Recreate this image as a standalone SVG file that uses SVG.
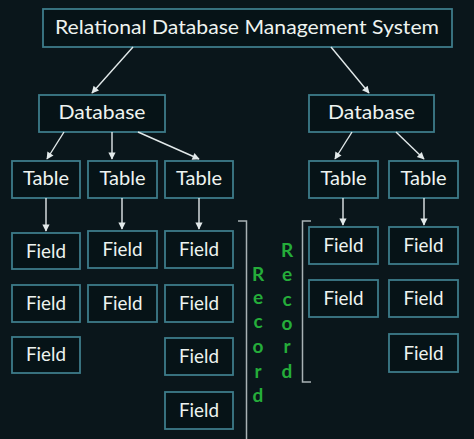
<svg xmlns="http://www.w3.org/2000/svg" width="474" height="439" viewBox="0 0 474 439">
<defs>
<style>
.bx{fill:#061317;stroke:#3d7c8a;stroke-width:1.8}
.t{font-family:Lato,"Liberation Sans",sans-serif;fill:#eef3f0;text-anchor:middle;font-size:19px}
.f{font-size:20px}
.c{stroke:#e2e9ea;stroke-width:1.4;fill:none}
.rec{font-family:Lato,"Liberation Sans",sans-serif;fill:#25ad3a;text-anchor:middle;font-size:19px;font-weight:700}
.br{stroke:#a9b2b5;stroke-width:1.5;fill:none}
</style>
<marker id="ah" viewBox="0 0 10 10" refX="9" refY="5" markerWidth="6" markerHeight="6" markerUnits="userSpaceOnUse" orient="auto" overflow="visible">
<path d="M0,0 L10,5 L0,10 z" fill="#e2e9ea" transform="scale(1.2) translate(-1.5,-0.8)"/>
</marker>
</defs>
<rect width="474" height="439" fill="#0a161b"/>
<g id="rdbms"><rect class="bx" x="43" y="9" width="409" height="38"/><text class="t" x="247" y="34" textLength="384" lengthAdjust="spacingAndGlyphs">Relational Database Management System</text></g>
<g id="db1"><rect class="bx" x="39" y="95" width="126" height="37"/><text class="t" x="102" y="119" textLength="87" lengthAdjust="spacingAndGlyphs">Database</text></g>
<g id="db2"><rect class="bx" x="309" y="95" width="125" height="37"/><text class="t" x="371.5" y="119" textLength="87" lengthAdjust="spacingAndGlyphs">Database</text></g>
<g id="t1"><rect class="bx" x="12" y="161" width="68" height="37"/><text class="t" x="46" y="185" textLength="46" lengthAdjust="spacingAndGlyphs">Table</text></g>
<g id="t2"><rect class="bx" x="88" y="161" width="69" height="37"/><text class="t" x="122.5" y="185" textLength="46" lengthAdjust="spacingAndGlyphs">Table</text></g>
<g id="t3"><rect class="bx" x="165" y="161" width="68" height="37"/><text class="t" x="199" y="185" textLength="46" lengthAdjust="spacingAndGlyphs">Table</text></g>
<g id="t4"><rect class="bx" x="309" y="161" width="69" height="37"/><text class="t" x="343.5" y="185" textLength="46" lengthAdjust="spacingAndGlyphs">Table</text></g>
<g id="t5"><rect class="bx" x="389" y="161" width="69" height="37"/><text class="t" x="423.5" y="185" textLength="46" lengthAdjust="spacingAndGlyphs">Table</text></g>
<g id="f11"><rect class="bx" x="12" y="233" width="68" height="36"/><text class="t f" x="46" y="258" textLength="40" lengthAdjust="spacingAndGlyphs">Field</text></g>
<g id="f12"><rect class="bx" x="12" y="285" width="68" height="37"/><text class="t f" x="46" y="310" textLength="40" lengthAdjust="spacingAndGlyphs">Field</text></g>
<g id="f13"><rect class="bx" x="12" y="337" width="68" height="36"/><text class="t f" x="46" y="361" textLength="40" lengthAdjust="spacingAndGlyphs">Field</text></g>
<g id="f21"><rect class="bx" x="88" y="231" width="69" height="37"/><text class="t f" x="122.5" y="256" textLength="40" lengthAdjust="spacingAndGlyphs">Field</text></g>
<g id="f22"><rect class="bx" x="88" y="285" width="69" height="37"/><text class="t f" x="122.5" y="310" textLength="40" lengthAdjust="spacingAndGlyphs">Field</text></g>
<g id="f31"><rect class="bx" x="165" y="231" width="68" height="37"/><text class="t f" x="199" y="256" textLength="40" lengthAdjust="spacingAndGlyphs">Field</text></g>
<g id="f32"><rect class="bx" x="165" y="285" width="68" height="37"/><text class="t f" x="199" y="310" textLength="40" lengthAdjust="spacingAndGlyphs">Field</text></g>
<g id="f33"><rect class="bx" x="165" y="338" width="68" height="37"/><text class="t f" x="199" y="363" textLength="40" lengthAdjust="spacingAndGlyphs">Field</text></g>
<g id="f34"><rect class="bx" x="165" y="392" width="68" height="37"/><text class="t f" x="199" y="417" textLength="40" lengthAdjust="spacingAndGlyphs">Field</text></g>
<g id="f41"><rect class="bx" x="309" y="227" width="69" height="37"/><text class="t f" x="343.5" y="252" textLength="40" lengthAdjust="spacingAndGlyphs">Field</text></g>
<g id="f42"><rect class="bx" x="309" y="280" width="69" height="37"/><text class="t f" x="343.5" y="305" textLength="40" lengthAdjust="spacingAndGlyphs">Field</text></g>
<g id="f51"><rect class="bx" x="389" y="227" width="69" height="37"/><text class="t f" x="423.5" y="252" textLength="40" lengthAdjust="spacingAndGlyphs">Field</text></g>
<g id="f52"><rect class="bx" x="389" y="280" width="69" height="37"/><text class="t f" x="423.5" y="305" textLength="40" lengthAdjust="spacingAndGlyphs">Field</text></g>
<g id="f53"><rect class="bx" x="389" y="334" width="69" height="38"/><text class="t f" x="423.5" y="360" textLength="40" lengthAdjust="spacingAndGlyphs">Field</text></g>
<g id="connectors">
<line class="c" x1="133" y1="47" x2="92" y2="93" marker-end="url(#ah)"/>
<line class="c" x1="331" y1="47" x2="369" y2="93" marker-end="url(#ah)"/>
<line class="c" x1="64" y1="132" x2="47" y2="159" marker-end="url(#ah)"/>
<line class="c" x1="112" y1="132" x2="112" y2="159" marker-end="url(#ah)"/>
<line class="c" x1="138" y1="132" x2="199" y2="159" marker-end="url(#ah)"/>
<line class="c" x1="352" y1="132" x2="335" y2="159" marker-end="url(#ah)"/>
<line class="c" x1="396" y1="132" x2="424" y2="159" marker-end="url(#ah)"/>
<line class="c" x1="46" y1="198" x2="46" y2="231" marker-end="url(#ah)"/>
<line class="c" x1="122" y1="198" x2="122" y2="229" marker-end="url(#ah)"/>
<line class="c" x1="199" y1="198" x2="199" y2="229" marker-end="url(#ah)"/>
<line class="c" x1="343" y1="198" x2="343" y2="225" marker-end="url(#ah)"/>
<line class="c" x1="424" y1="198" x2="424" y2="225" marker-end="url(#ah)"/>
</g>
<g id="brackets">
<path class="br" d="M238,221 H246.5 V439"/>
<path class="br" d="M311,221 H302.5 V382 H311"/>
</g>
<g id="record-left">
<text class="rec" x="258" y="281">R</text>
<text class="rec" x="258" y="304">e</text>
<text class="rec" x="258" y="328">c</text>
<text class="rec" x="258" y="353">o</text>
<text class="rec" x="258" y="378">r</text>
<text class="rec" x="258" y="402">d</text>
</g>
<g id="record-right">
<text class="rec" x="287" y="257">R</text>
<text class="rec" x="287" y="281">e</text>
<text class="rec" x="287" y="306">c</text>
<text class="rec" x="287" y="330">o</text>
<text class="rec" x="287" y="353">r</text>
<text class="rec" x="287" y="378">d</text>
</g>
</svg>
